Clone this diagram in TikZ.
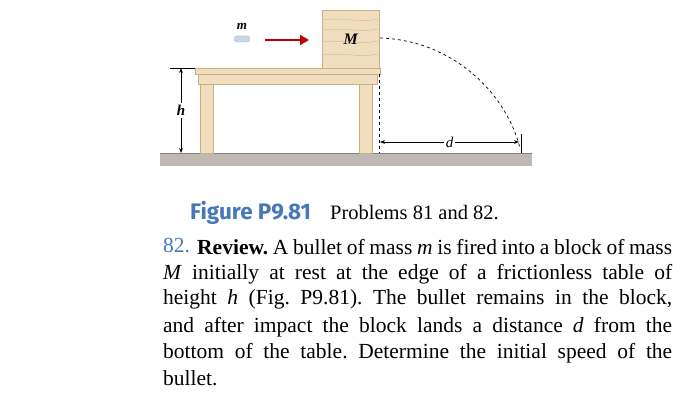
\documentclass[tikz,border=0pt]{standalone}
\usepackage{fontspec}
\setmainfont{Liberation Serif}
\newfontfamily\figfont{Fira Sans}
\usetikzlibrary{arrows.meta}
\definecolor{wood}{RGB}{240,222,190}
\definecolor{woodedge}{RGB}{200,175,135}
\definecolor{figblue}{RGB}{70,120,185}
\definecolor{ground}{RGB}{190,185,178}
\definecolor{bulletc}{RGB}{200,215,230}
\newcommand{\jl}[2]{\parbox{#1}{\frenchspacing\parfillskip=0pt\relax #2}}
\begin{document}
\begin{tikzpicture}[x=1pt,y=-1pt,
  woodpart/.style={fill=wood,draw=woodedge,line width=0.6pt},
  dim/.style={line width=0.6pt,{Stealth[length=5pt]}-{Stealth[length=5pt]}},
  txt/.style={anchor=base west,inner sep=0pt,font=\fontsize{21.5}{22}\selectfont}]
\useasboundingbox (0,0) rectangle (700,406);
% ground
\fill[ground] (160,153) rectangle (532,166);
\draw[gray,line width=0.6pt] (160,153) -- (532,153);
% table
\node[woodpart,minimum width=13pt,minimum height=70pt,inner sep=0pt,anchor=north west] (legl) at (200,83) {};
\node[woodpart,minimum width=13pt,minimum height=70pt,inner sep=0pt,anchor=north west] (legr) at (359,83) {};
\node[woodpart,minimum width=179pt,minimum height=10pt,inner sep=0pt,anchor=north west] (apron) at (198,74) {};
\node[woodpart,minimum width=185pt,minimum height=6pt,inner sep=0pt,anchor=north west] (top) at (195,68) {};
% block
\node[woodpart,minimum width=57pt,minimum height=58pt,inner sep=0pt,anchor=north west,
  font=\itshape\bfseries\fontsize{16}{16}\selectfont] (M) at (322,10) {M};
\foreach \yy in {20,30,42,55}
  \draw[woodedge,line width=0.3pt] (323,\yy) .. controls (340,\yy-3) and (360,\yy+3) .. (378,\yy-1);
% bullet
\node[fill=bulletc,draw=gray!70,line width=0.3pt,minimum width=15pt,minimum height=6pt,inner sep=0pt,rounded corners=2pt] (b) at (242,39) {};
\node[font=\itshape\bfseries\fontsize{13}{13}\selectfont] (mlab) at (242,26) {m};
\coordinate (a1) at (265,40); \coordinate (a2) at (309,40);
\draw[red!75!black,line width=2.5pt,-{Triangle[length=9pt,width=10pt]}] (a1) -- (a2);
% trajectory
\coordinate (t0) at (380,38); \coordinate (t1) at (520,148);
\draw[dashed,line width=0.7pt] (t0) .. controls (450,40) and (505,90) .. (t1);
\coordinate (v0) at (379,74); \coordinate (v1) at (379,153);
\draw[dashed,line width=0.7pt] (v0) -- (v1);
% d
\coordinate (d0) at (380,142); \coordinate (d1) at (519,142);
\draw[dim] (d0) -- node[fill=white,inner sep=2pt,font=\itshape\fontsize{15}{15}\selectfont]{d} (d1);
\coordinate (tk0) at (521,134); \coordinate (tk1) at (521,153);
\draw[line width=0.5pt] (tk0) -- (tk1);
% h
\coordinate (h0) at (181,68); \coordinate (h1) at (181,153);
\draw[dim] (h0) -- node[fill=white,inner sep=2pt,font=\itshape\bfseries\fontsize{15}{15}\selectfont]{h} (h1);
\coordinate (ht0) at (170,68);
\draw[line width=0.5pt] (ht0) -- (top.north west);
% caption
\node[anchor=base west,inner sep=0pt,text=figblue,font=\figfont\bfseries\fontsize{22.5}{23}\selectfont] (cap) at (190,219) {Figure P9.81};
\node[anchor=base west,inner sep=0pt,font=\fontsize{20.5}{21}\selectfont] (cap2) at (330,219) {Problems 81 and 82.};
% paragraph
\node[txt] (n82) at (163,252) {\textcolor{figblue}{82.}};
\node[txt] (l1) at (197,252) {\jl{475pt}{\textbf{Review.} A bullet of mass \textit{m} is fired into a block of mass}};
\node[txt] (l2) at (163,279) {\jl{509pt}{\textit{M} initially at rest at the edge of a frictionless table of}};
\node[txt] (l3) at (163,305) {\jl{509pt}{height \textit{h} (Fig.~P9.81). The bullet remains in the block,}};
\node[txt] (l4) at (163,332) {\jl{509pt}{and after impact the block lands a distance \textit{d} from the}};
\node[txt] (l5) at (163,358) {\jl{509pt}{bottom of the table. Determine the initial speed of the}};
\node[txt] (l6) at (163,385) {bullet.};
\end{tikzpicture}
\end{document}
